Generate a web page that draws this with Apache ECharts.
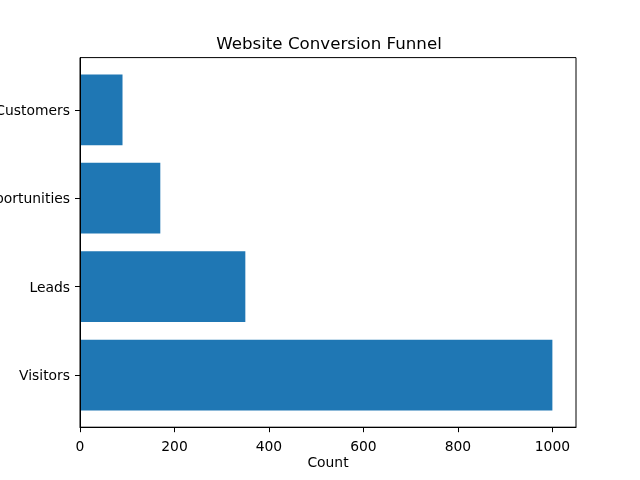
<!DOCTYPE html>
<html>
<head>
<meta charset="utf-8">
<script src="https://cdn.jsdelivr.net/npm/echarts@6/dist/echarts.min.js"></script>
<style>html,body{margin:0;padding:0;background:#fff}#c{width:640px;height:480px}</style>
</head>
<body>
<div id="c"></div>
<script>
var categories = ['Visitors', 'Leads', 'Opportunities', 'Customers'];
var counts = [1000, 350, 170, 90];
var xTicks = [0, 200, 400, 600, 800, 1000];

var font = 'DejaVu Sans';
var chart = echarts.init(document.getElementById('c'), null, {renderer: 'canvas'});
chart.setOption({
  animation: false,
  backgroundColor: '#ffffff',
  textStyle: {fontFamily: font},
  title: {
    text: 'Website Conversion Funnel',
    left: 324, top: 31, textAlign: 'center',
    textStyle: {fontFamily: font, fontSize: 16.67, fontWeight: 'normal', color: '#000'}
  },
  grid: [
    {left: 80, right: 64, top: 57.6, bottom: 52.8, show: true, borderColor: '#000', borderWidth: 1, backgroundColor: 'transparent', containLabel: false, outerBoundsMode: 'none'},
    {left: 80, right: 64, top: 65.56, bottom: 60.76, show: false, containLabel: false, outerBoundsMode: 'none'}
  ],
  xAxis: [
    {
      gridIndex: 0, type: 'value', min: 0, max: 1050, interval: 200,
      name: 'Count', nameLocation: 'middle', nameGap: 29, nameMoveOverlap: false,
      nameTextStyle: {fontFamily: font, fontSize: 13.89, color: '#000'},
      axisLine: {show: true, onZero: false, lineStyle: {color: '#000', width: 1}},
      axisTick: {show: true, length: 5, inside: false, lineStyle: {color: '#000', width: 1}},
      axisLabel: {
        margin: 13, fontFamily: font, fontSize: 13.89, color: '#000',
        showMaxLabel: false,
        formatter: function (v) { return xTicks.indexOf(v) >= 0 ? String(v) : ''; }
      },
      splitLine: {show: false}
    },
    {
      gridIndex: 1, type: 'value', min: 0, max: 1050, show: false
    }
  ],
  yAxis: [
    {
      gridIndex: 0, type: 'value', min: 0, max: 1, show: true, z: 10,
      axisLine: {show: true, onZero: false, lineStyle: {color: '#000', width: 1}},
      axisTick: {show: false}, axisLabel: {show: false}, splitLine: {show: false}
    },
    {
      gridIndex: 1, type: 'category', data: categories, boundaryGap: true,
      axisLine: {show: false},
      axisTick: {show: true, alignWithLabel: true, length: 5, lineStyle: {color: '#000', width: 1}},
      axisLabel: {
        margin: 10, fontFamily: font, fontSize: 13.89, color: '#000',
        formatter: function (v) { return '{a|' + v + '}'; },
        rich: {a: {fontFamily: font, fontSize: 13.89, color: '#000', padding: [3, 0, 0, 0]}}
      },
      splitLine: {show: false}
    }
  ],
  series: [{
    type: 'bar', xAxisIndex: 1, yAxisIndex: 1,
    data: counts, barWidth: '80%',
    itemStyle: {color: '#1f77b4'}
  }]
});
</script>
</body>
</html>
